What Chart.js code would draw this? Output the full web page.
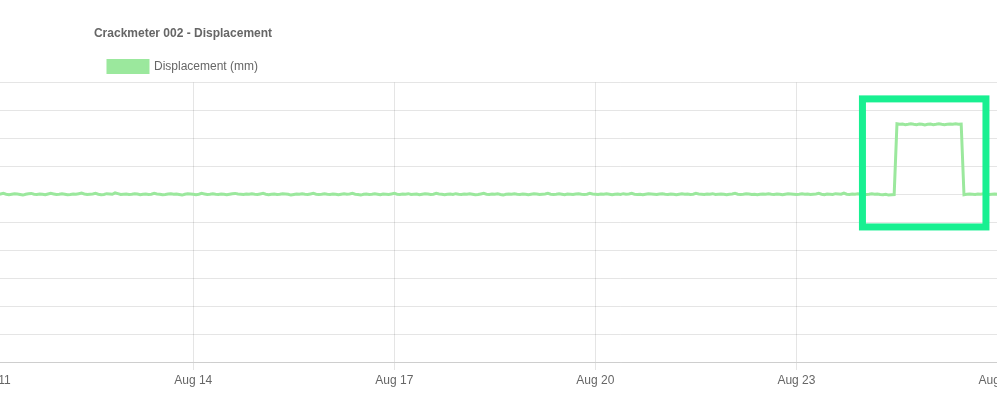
<!DOCTYPE html>
<html>
<head>
<meta charset="utf-8">
<title>Crackmeter 002 - Displacement</title>
<script src="https://cdn.jsdelivr.net/npm/chart.js@4.4.1/dist/chart.umd.min.js"></script>
<style>
  html, body { margin:0; padding:0; background:#fff; overflow:hidden; width:997px; height:409px; }
  /* the original canvas is wider than the visible crop, so it is shifted left */
  #wrap { position:absolute; left:-665px; top:0; width:1696px; height:409px; }
</style>
</head>
<body>
<div id="wrap"><canvas id="chart"></canvas></div>
<script>
  // hourly readings (mm), first one is Aug 10 18:00
  const firstReading = 10.75; // day of August
  const aug10 = [0.601, 0.599, 0.602, 0.600, 0.598, 0.601];
  const aug11 = [0.602, 0.600, 0.599, 0.601, 0.603, 0.600, 0.598, 0.600, 0.602, 0.601, 0.599, 0.597, 0.600, 0.602, 0.603, 0.600, 0.599, 0.601, 0.600, 0.598, 0.601, 0.603, 0.601, 0.599];
  const aug12 = [0.600, 0.602, 0.600, 0.598, 0.599, 0.601, 0.600, 0.602, 0.604, 0.601, 0.599, 0.600, 0.601, 0.603, 0.600, 0.598, 0.599, 0.602, 0.601, 0.600, 0.605, 0.602, 0.599, 0.600];
  const aug13 = [0.601, 0.599, 0.600, 0.602, 0.601, 0.598, 0.600, 0.601, 0.599, 0.600, 0.603, 0.601, 0.600, 0.598, 0.599, 0.601, 0.602, 0.600, 0.601, 0.599, 0.597, 0.600, 0.602, 0.601];
  const aug14 = [0.600, 0.598, 0.600, 0.603, 0.601, 0.599, 0.600, 0.602, 0.600, 0.599, 0.601, 0.600, 0.598, 0.600, 0.602, 0.603, 0.601, 0.600, 0.599, 0.601, 0.600, 0.602, 0.600, 0.599];
  const aug15 = [0.601, 0.603, 0.600, 0.598, 0.600, 0.601, 0.599, 0.600, 0.602, 0.601, 0.600, 0.597, 0.599, 0.601, 0.600, 0.602, 0.600, 0.599, 0.601, 0.603, 0.600, 0.599, 0.600, 0.602];
  const aug16 = [0.600, 0.599, 0.601, 0.600, 0.598, 0.600, 0.602, 0.600, 0.601, 0.603, 0.600, 0.599, 0.597, 0.600, 0.601, 0.599, 0.600, 0.602, 0.600, 0.598, 0.601, 0.600, 0.599, 0.601];
  const aug17 = [0.603, 0.600, 0.599, 0.601, 0.600, 0.602, 0.599, 0.600, 0.601, 0.598, 0.600, 0.602, 0.601, 0.599, 0.600, 0.603, 0.601, 0.600, 0.598, 0.600, 0.601, 0.599, 0.602, 0.600];
  const aug18 = [0.599, 0.601, 0.600, 0.602, 0.600, 0.598, 0.599, 0.601, 0.603, 0.600, 0.599, 0.601, 0.600, 0.602, 0.599, 0.597, 0.600, 0.601, 0.600, 0.602, 0.600, 0.599, 0.601, 0.600];
  const aug19 = [0.598, 0.600, 0.602, 0.601, 0.599, 0.600, 0.601, 0.603, 0.600, 0.599, 0.600, 0.602, 0.600, 0.598, 0.601, 0.600, 0.599, 0.601, 0.602, 0.600, 0.599, 0.600, 0.603, 0.601];
  const aug20 = [0.600, 0.599, 0.601, 0.600, 0.602, 0.600, 0.598, 0.600, 0.601, 0.599, 0.602, 0.600, 0.601, 0.603, 0.600, 0.599, 0.600, 0.598, 0.600, 0.602, 0.601, 0.600, 0.599, 0.601];
  const aug21 = [0.602, 0.600, 0.599, 0.601, 0.600, 0.598, 0.600, 0.602, 0.600, 0.601, 0.599, 0.600, 0.603, 0.601, 0.600, 0.599, 0.601, 0.600, 0.602, 0.599, 0.600, 0.601, 0.600, 0.598];
  const aug22 = [0.600, 0.601, 0.603, 0.600, 0.599, 0.600, 0.602, 0.601, 0.599, 0.600, 0.598, 0.600, 0.601, 0.600, 0.602, 0.600, 0.599, 0.601, 0.600, 0.598, 0.600, 0.602, 0.601, 0.600];
  const aug23 = [0.599, 0.600, 0.602, 0.600, 0.601, 0.599, 0.600, 0.601, 0.603, 0.600, 0.598, 0.601, 0.600, 0.599, 0.602, 0.601, 0.600, 0.604, 0.600, 0.599, 0.601, 0.600, 0.602, 0.600];
  const aug24 = [0.601, 0.599, 0.600, 0.602, 0.600, 0.601, 0.599, 0.598, 0.600, 0.597, 0.598, 0.599, 0.852, 0.850, 0.851, 0.849, 0.850, 0.852, 0.850, 0.849, 0.851, 0.850, 0.848, 0.850];
  const aug25 = [0.851, 0.849, 0.850, 0.852, 0.850, 0.849, 0.850, 0.851, 0.850, 0.852, 0.850, 0.851, 0.598, 0.600, 0.601, 0.600, 0.599, 0.601, 0.600, 0.602, 0.600, 0.599, 0.600, 0.601];
  const aug26 = [0.600, 0.602, 0.600, 0.599, 0.601, 0.600, 0.598, 0.600, 0.601, 0.600, 0.599, 0.601, 0.600];

  const tickDays = [2, 5, 8, 11, 14, 17, 20, 23, 26];

  // marker drawn round the jump, in axis units
  const highlight = { dayFrom: 23.985, dayTo: 25.828, mmFrom: 0.483, mmTo: 0.941 };

  const readings = [].concat(aug10, aug11, aug12, aug13, aug14, aug15, aug16, aug17, aug18,
                             aug19, aug20, aug21, aug22, aug23, aug24, aug25, aug26);
  const points = readings.map((v, i) => ({ x: firstReading + i / 24, y: v }));

  const lineColor = 'rgb(155, 232, 157)';

  const highlightPlugin = {
    id: 'highlight',
    afterDraw(chart){
      const { ctx, scales } = chart;
      const l = scales.x.getPixelForValue(highlight.dayFrom);
      const r = scales.x.getPixelForValue(highlight.dayTo);
      const t = scales.y.getPixelForValue(highlight.mmTo);
      const b = scales.y.getPixelForValue(highlight.mmFrom);
      ctx.save();
      ctx.strokeStyle = '#18f091';
      ctx.lineWidth = 7;
      ctx.strokeRect(l, t, r - l, b - t);
      ctx.restore();
    }
  };

  new Chart(document.getElementById('chart'), {
    type: 'line',
    data: {
      datasets: [{
        label: 'Displacement (mm)',
        data: points,
        borderColor: lineColor,
        backgroundColor: lineColor,
        borderWidth: 3,
        pointRadius: 0,
        tension: 0,
        fill: false
      }]
    },
    options: {
      responsive: true,
      maintainAspectRatio: false,
      animation: false,
      layout: { padding: { top: 16, bottom: 18.6, left: 0, right: 0 } },
      plugins: {
        title: { display: true, text: 'Crackmeter 002 - Displacement', color: '#666', font: { size: 12, weight: 'bold' }, padding: 10 },
        legend: { labels: { color: '#666', boxWidth: 40, font: { size: 12 } } },
        tooltip: { enabled: false }
      },
      scales: {
        x: {
          type: 'linear',
          min: 2,
          max: 26.5,
          afterBuildTicks: s => { s.ticks = tickDays.map(v => ({ value: v })); },
          ticks: { color: '#666', maxRotation: 0, autoSkip: false, callback: v => 'Aug ' + v },
          grid: { color: 'rgba(0,0,0,0.1)' }
        },
        y: {
          min: 0,
          max: 1,
          afterFit: s => { s.width = 54; },
          ticks: { color: '#666', stepSize: 0.1 },
          grid: { color: 'rgba(0,0,0,0.1)' }
        }
      }
    },
    plugins: [highlightPlugin]
  });
</script>
</body>
</html>
